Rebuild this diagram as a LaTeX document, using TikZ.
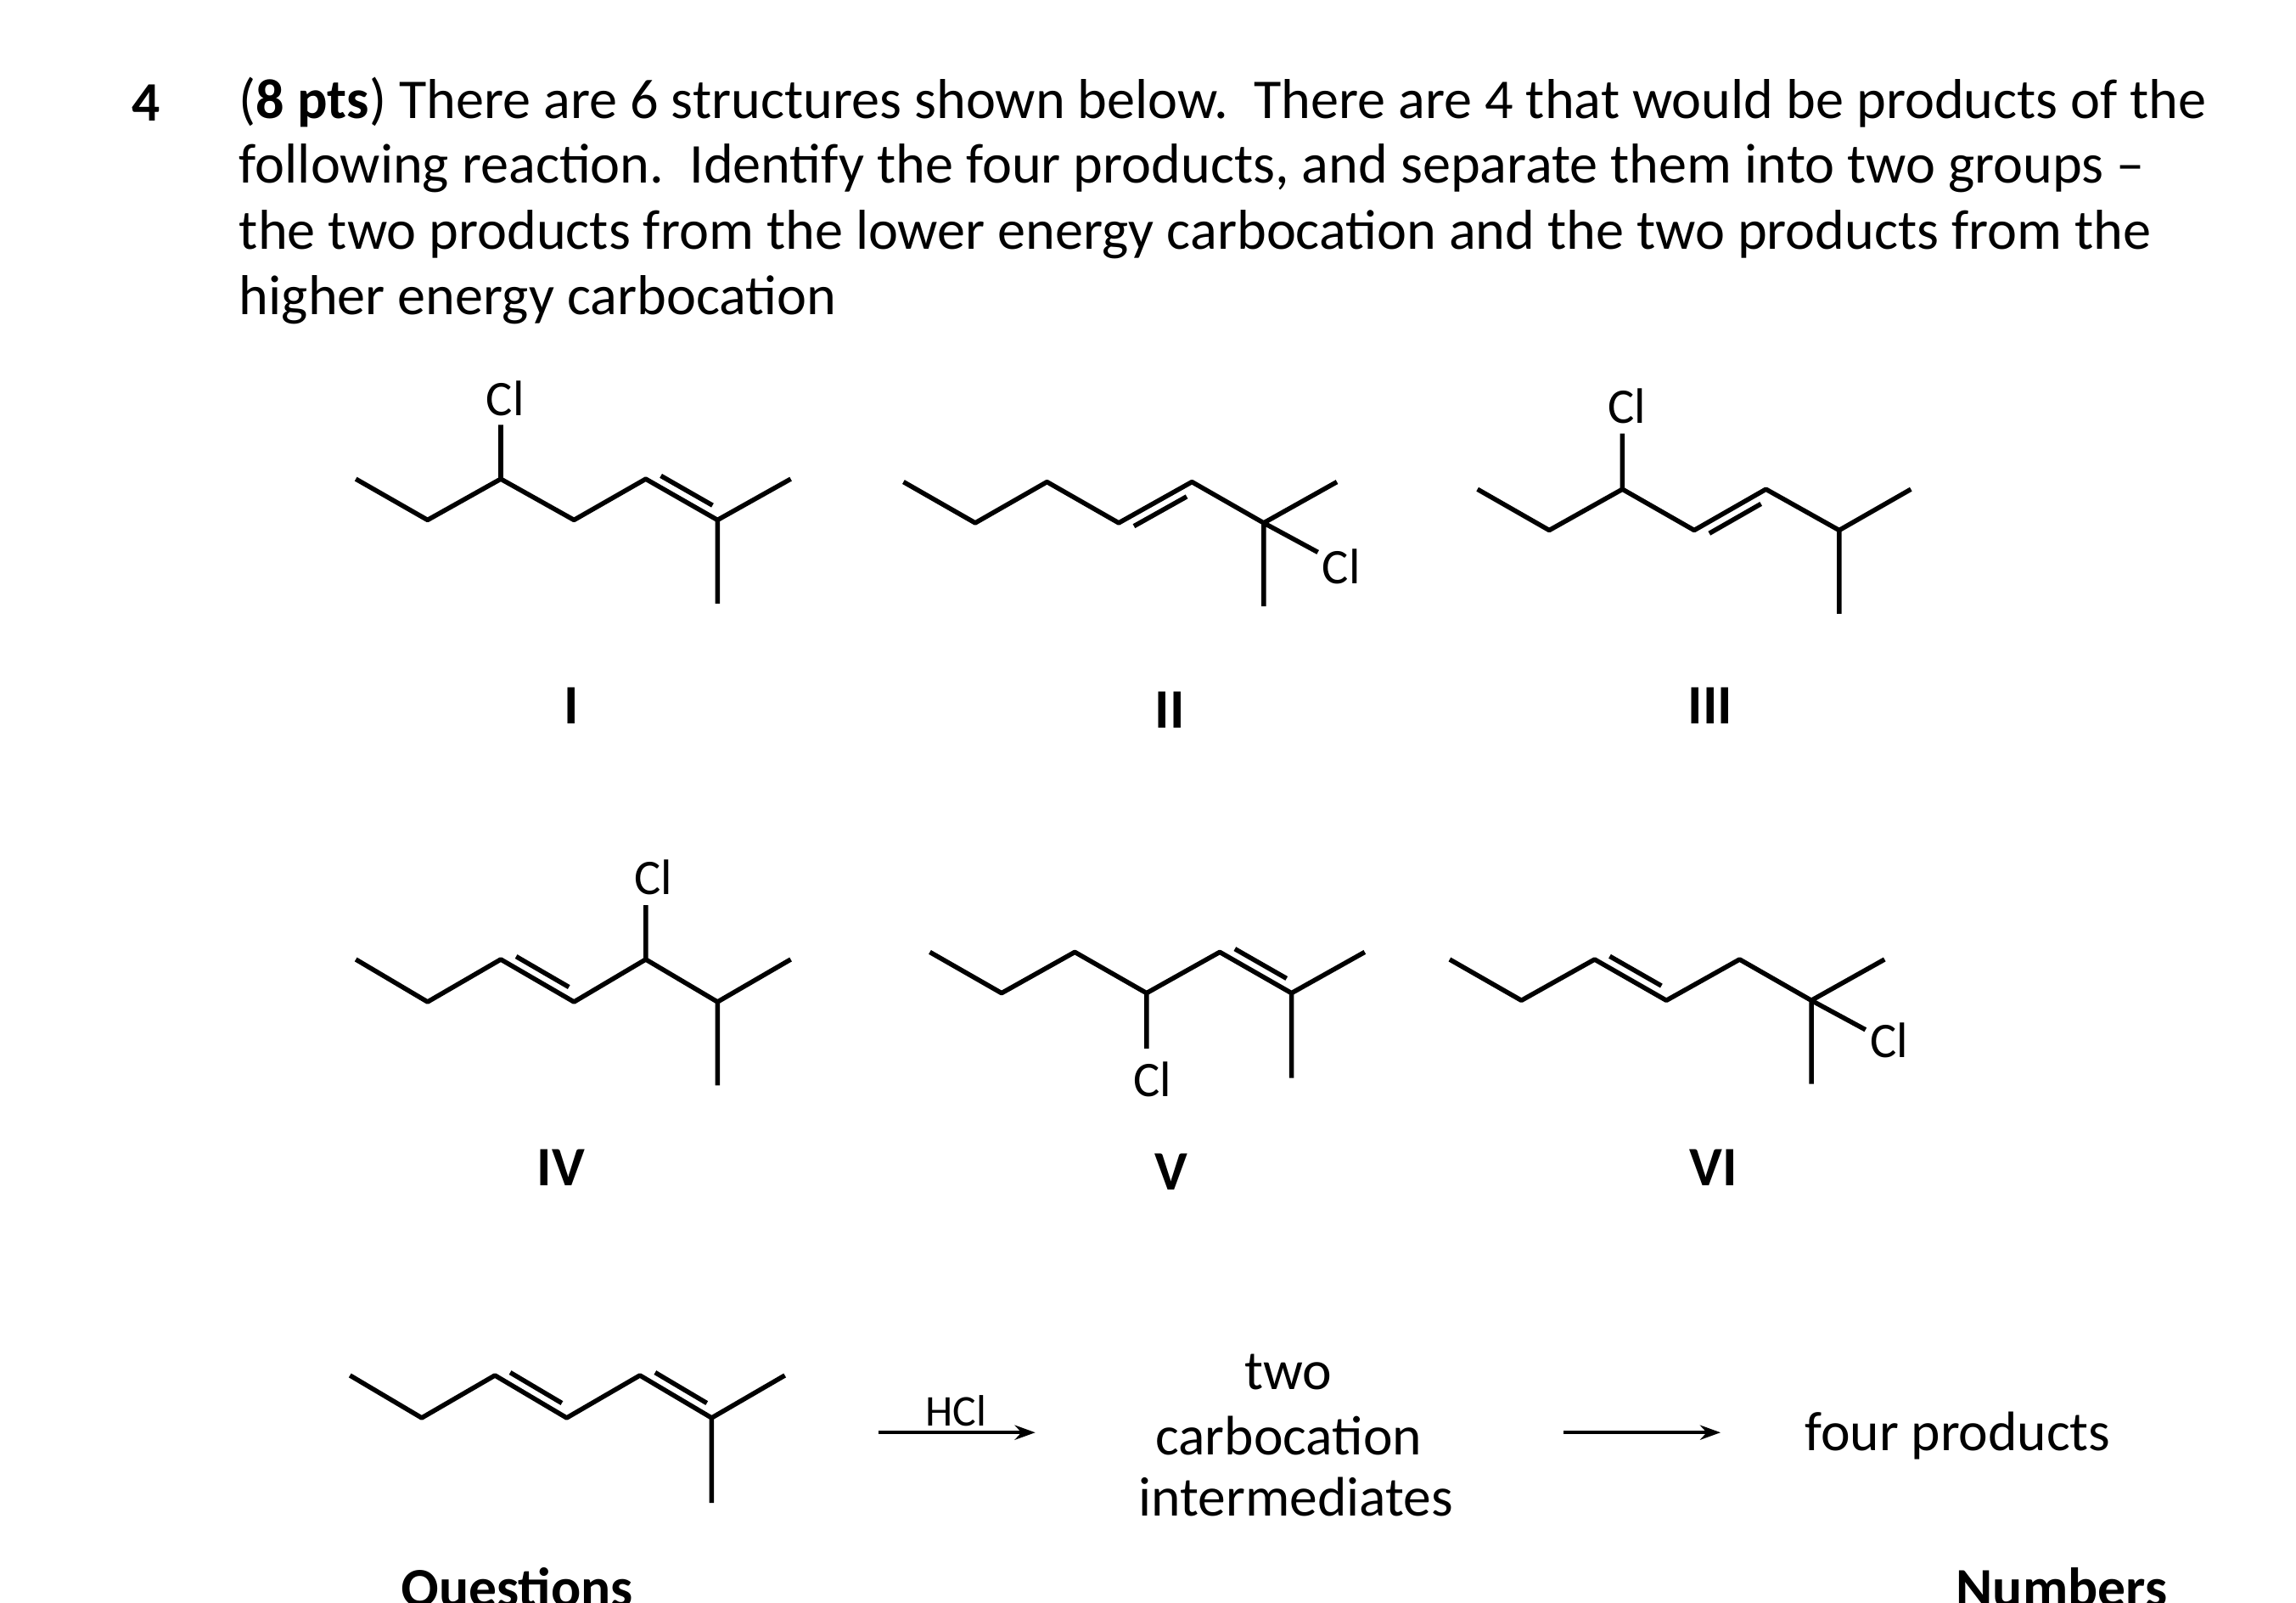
\documentclass[tikz,border=0pt]{standalone}
\usepackage{fontspec}
\setmainfont{Carlito}
\usetikzlibrary{calc,arrows.meta}
\tikzset{bond/.style={line width=1.6pt,line join=round},
 txt/.style={font=\fontsize{19.2}{22}\selectfont,anchor=west,inner sep=0},
 lbl/.style={font=\fontsize{19}{22}\selectfont\bfseries,inner sep=0},
 cl/.style={font=\fontsize{17}{20}\selectfont,inner sep=0},
 arr/.style={line width=1.1pt,-{Stealth[length=7pt,width=5pt]}}}
\newcommand{\dbl}[3]{\draw[bond] ($(#1)!0.14!(#2)!3.5pt!#3:(#2)$) -- ($(#2)!0.14!(#1)!3.5pt!-#3:(#1)$);}
\begin{document}
\begin{tikzpicture}[x=0.5pt,y=-0.5pt]
\useasboundingbox (0,0) rectangle (1568,1094);
\node[lbl,anchor=west] (n4) at (90,70) {4};
\node[txt] (t1) at (163,70) {(\textbf{8 pts}) There are 6 structures shown below.\ \ There are 4 that would be products of the};
\node[txt] (t2) at (163,115) {following reaction.\ \ Identify the four products, and separate them into two groups --};
\node[txt] (t3) at (163,160) {the two products from the lower energy carbocation and the two products from the};
\node[txt] (t4) at (163,205) {higher energy carbocation};
% I
\coordinate (a1) at (243,327); \coordinate (a2) at (292,355); \coordinate (a3) at (342,327);
\coordinate (a4) at (392,355); \coordinate (a5) at (441,327); \coordinate (a6) at (490,355);
\coordinate (a7) at (540,327); \coordinate (a8) at (490,412); \coordinate (a9) at (342,290);
\draw[bond] (a1)--(a2)--(a3)--(a4)--(a5)--(a6)--(a7) (a6)--(a8) (a3)--(a9);
\dbl{a5}{a6}{90}
\node[cl] (c1) at (345,272) {Cl};
% II
\coordinate (b1) at (617,329); \coordinate (b2) at (666,357); \coordinate (b3) at (715,329);
\coordinate (b4) at (764,357); \coordinate (b5) at (814,329); \coordinate (b6) at (863,357);
\coordinate (b7) at (913,329); \coordinate (b8) at (863,414); \coordinate (b9) at (900,377);
\draw[bond] (b1)--(b2)--(b3)--(b4)--(b5)--(b6)--(b7) (b6)--(b8) (b6)--(b9);
\dbl{b4}{b5}{-90}
\node[cl] (c2) at (916,387) {Cl};
% III
\coordinate (d1) at (1009,334); \coordinate (d2) at (1058,362); \coordinate (d3) at (1108,334);
\coordinate (d4) at (1157,362); \coordinate (d5) at (1206,334); \coordinate (d6) at (1256,362);
\coordinate (d7) at (1305,334); \coordinate (d8) at (1256,419); \coordinate (d9) at (1108,296);
\draw[bond] (d1)--(d2)--(d3)--(d4)--(d5)--(d6)--(d7) (d6)--(d8) (d3)--(d9);
\dbl{d4}{d5}{-90}
\node[cl] (c3) at (1111,277) {Cl};
\node[lbl] (L1) at (390,482) {I};
\node[lbl] (L2) at (799,485) {II};
\node[lbl] (L3) at (1168,482) {III};
% IV
\coordinate (e1) at (243,655); \coordinate (e2) at (292,684); \coordinate (e3) at (342,655);
\coordinate (e4) at (392,684); \coordinate (e5) at (441,655); \coordinate (e6) at (490,684);
\coordinate (e7) at (540,655); \coordinate (e8) at (490,741); \coordinate (e9) at (441,618);
\draw[bond] (e1)--(e2)--(e3)--(e4)--(e5)--(e6)--(e7) (e6)--(e8) (e5)--(e9);
\dbl{e3}{e4}{90}
\node[cl] (c4) at (446,599) {Cl};
% V
\coordinate (f1) at (635,650); \coordinate (f2) at (684,678); \coordinate (f3) at (734,650);
\coordinate (f4) at (783,678); \coordinate (f5) at (833,650); \coordinate (f6) at (882,678);
\coordinate (f7) at (932,650); \coordinate (f8) at (882,736); \coordinate (f9) at (783,716);
\draw[bond] (f1)--(f2)--(f3)--(f4)--(f5)--(f6)--(f7) (f6)--(f8) (f4)--(f9);
\dbl{f5}{f6}{90}
\node[cl] (c5) at (787,737) {Cl};
% VI
\coordinate (g1) at (990,655); \coordinate (g2) at (1039,683); \coordinate (g3) at (1089,655);
\coordinate (g4) at (1138,683); \coordinate (g5) at (1188,655); \coordinate (g6) at (1237,683);
\coordinate (g7) at (1287,655); \coordinate (g8) at (1237,740); \coordinate (g9) at (1274,703);
\draw[bond] (g1)--(g2)--(g3)--(g4)--(g5)--(g6)--(g7) (g6)--(g8) (g6)--(g9);
\dbl{g3}{g4}{90}
\node[cl] (c6) at (1290,710) {Cl};
\node[lbl] (L4) at (383,797) {IV};
\node[lbl] (L5) at (800,800) {V};
\node[lbl] (L6) at (1170,797) {VI};
% reactant
\coordinate (h1) at (239,939); \coordinate (h2) at (288,968); \coordinate (h3) at (338,939);
\coordinate (h4) at (387,968); \coordinate (h5) at (437,939); \coordinate (h6) at (486,968);
\coordinate (h7) at (536,939); \coordinate (h8) at (486,1026);
\draw[bond] (h1)--(h2)--(h3)--(h4)--(h5)--(h6)--(h7) (h6)--(h8);
\dbl{h3}{h4}{90}
\dbl{h5}{h6}{90}
\coordinate (r1) at (600,978); \coordinate (r2) at (707,978);
\draw[arr] (r1)--(r2);
\node[cl,font=\fontsize{15}{18}\selectfont] (hcl) at (653,963) {HCl};
\node[inner sep=0,font=\fontsize{19}{22}\selectfont] (w1) at (880,937) {two};
\node[inner sep=0,font=\fontsize{19}{22}\selectfont] (w2) at (880,980) {carbocation};
\node[inner sep=0,font=\fontsize{19}{22}\selectfont] (w3) at (885,1022) {intermediates};
\coordinate (s1) at (1068,978); \coordinate (s2) at (1175,978);
\draw[arr] (s1)--(s2);
\node[inner sep=0,font=\fontsize{19}{22}\selectfont] (fp) at (1337,980) {four products};
\node[lbl,anchor=north] (q) at (353,1070) {Questions};
\node[lbl,anchor=north] (nu) at (1408,1070) {Numbers};
\end{tikzpicture}
\end{document}
